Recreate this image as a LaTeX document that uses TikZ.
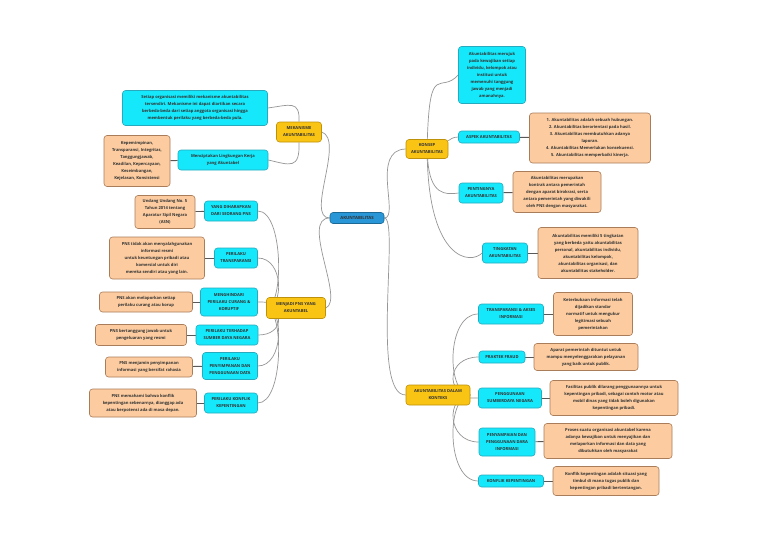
\documentclass[tikz,border=0pt]{standalone}
\usepackage{fontspec}
\setmainfont{Open Sans}
\usetikzlibrary{backgrounds}
\definecolor{cy}{RGB}{20,232,250}
\definecolor{cyb}{RGB}{40,170,190}
\definecolor{pe}{RGB}{252,204,160}
\definecolor{peb}{RGB}{170,125,90}
\definecolor{ye}{RGB}{250,196,20}
\definecolor{yeb}{RGB}{190,145,10}
\definecolor{bl}{RGB}{40,150,215}
\definecolor{tx}{RGB}{50,50,50}
\definecolor{ln}{RGB}{150,150,150}
\tikzset{
 base/.style={rounded corners=3pt,align=center,text=tx,font=\fontsize{4.1}{7}\selectfont\bfseries,inner sep=2pt,line width=0.6pt},
 cyn/.style={base,fill=cy,draw=cyb},
 pch/.style={base,fill=pe,draw=peb},
 yel/.style={base,fill=ye,draw=yeb},
 root/.style={base,fill=bl,draw=bl!70!black,font=\fontsize{4.3}{7}\selectfont\bfseries,minimum width=54pt,minimum height=11pt},
 br/.style={draw=ln,line width=0.7pt},
 lk/.style={draw=gray!70!black,line width=0.9pt}
}
\begin{document}
\begin{tikzpicture}[x=1pt,y=-1pt]
\useasboundingbox (0,0) rectangle (768,543);
\node[root] (r) at (357,218) {AKUNTABILITAS};
% left
\node[yel,minimum width=45pt,minimum height=20pt] (mek) at (299,132) {MEKANISME\\AKUNTABILITAS};
\node[cyn,minimum width=145pt,minimum height=35pt] (c1) at (195,108) {Setiap organisasi memiliki mekanisme akuntabilitas\\tersendiri. Mekanisme ini dapat diartikan secara\\berbeda-beda dari setiap anggota organisasi hingga\\membentuk perilaku yang berbeda-beda pula.};
\node[cyn,minimum width=90pt,minimum height=20pt] (c2) at (223,160) {Menciptakan Lingkungan Kerja\\yang Akuntabel};
\node[pch,minimum width=66pt,minimum height=51pt] (p2) at (137,161) {Kepemimpinan,\\Transparansi, Integritas,\\Tanggungjawab,\\Keadilan, Kepercayaan,\\Keseimbangan,\\Kejelasan, Konsistensi};
\node[yel,minimum width=59pt,minimum height=21pt] (pns) at (296,308) {MENJADI PNS YANG\\AKUNTABEL};
\node[cyn,minimum width=53pt,minimum height=20pt] (d1) at (231,211) {YANG DIHARAPKAN\\DARI SEORANG PNS};
\node[pch,minimum width=60pt,minimum height=33pt] (q1) at (165,212) {Undang Undang No. 5\\Tahun 2014 tentang\\Aparatur Sipil Negara\\(ASN)};
\node[cyn,minimum width=43pt,minimum height=20pt] (d2) at (236,258) {PERILAKU\\TRANSPARANSI};
\node[pch,minimum width=95pt,minimum height=42pt] (q2) at (157,258) {PNS tidak akan menyalahgunakan\\informasi resmi\\untuk keuntungan pribadi atau\\komersial untuk diri\\mereka sendiri atau yang lain.};
\node[cyn,minimum width=57pt,minimum height=28pt] (d3) at (229,302) {MENGHINDARI\\PERILAKU CURANG \&\\KORUPTIF};
\node[pch,minimum width=93pt,minimum height=20pt] (q3) at (146,302) {PNS akan melaporkan setiap\\perilaku curang atau korup};
\node[cyn,minimum width=62pt,minimum height=20pt] (d4) at (227,335) {PERILAKU TERHADAP\\SUMBER DAYA NEGARA};
\node[pch,minimum width=91pt,minimum height=21pt] (q4) at (141,335) {PNS bertanggung jawab untuk\\pengeluaran yang resmi};
\node[cyn,minimum width=55pt,minimum height=27pt] (d5) at (230,366) {PERILAKU\\PENYIMPANAN DAN\\PENGGUNAAN DATA};
\node[pch,minimum width=87pt,minimum height=20pt] (q5) at (149,367) {PNS menjamin penyimpanan\\informasi yang bersifat rahasia};
\node[cyn,minimum width=53pt,minimum height=20pt] (d6) at (231,403) {PERILAKU KONFLIK\\KEPENTINGAN};
\node[pch,minimum width=107pt,minimum height=28pt] (q6) at (143,403) {PNS memahami bahwa konflik\\kepentingan sebenarnya, dianggap ada\\atau berpotensi ada di masa depan.};
% right
\node[yel,minimum width=42pt,minimum height=19pt] (kon) at (427,149) {KONSEP\\AKUNTABILITAS};
\node[cyn,minimum width=67pt,minimum height=57pt] (e1) at (492,75) {Akuntabilitas merujuk\\pada kewajiban setiap\\individu, kelompok atau\\institusi untuk\\memenuhi tanggung\\jawab yang menjadi\\amanahnya.};
\node[cyn,minimum width=61pt,minimum height=12pt] (e2) at (489,137) {ASPEK AKUNTABILITAS};
\node[pch,minimum width=121pt,minimum height=50pt] (f2) at (590,138) {1. Akuntabilitas adalah sebuah hubungan.\\2. Akuntabilitas berorientasi pada hasil.\\3. Akuntabilitas membutuhkan adanya\\laporan.\\4. Akuntabilitas  Memerlukan konsekuensi.\\5. Akuntabilitas memperbaiki kinerja.};
\node[cyn,minimum width=44pt,minimum height=20pt] (e3) at (481,193) {PENTINGNYA\\AKUNTABILITAS};
\node[pch,minimum width=88pt,minimum height=41pt] (f3) at (557,192) {Akuntabilitas merupakan\\kontrak antara pemerintah\\dengan aparat birokrasi, serta\\antara pemerintah yang diwakili\\oleh PNS dengan masyarakat.};
\node[cyn,minimum width=45pt,minimum height=20pt] (e4) at (505,253) {TINGKATAN\\AKUNTABILITAS};
\node[pch,minimum width=100pt,minimum height=51pt] (f4) at (588,253) {Akuntabilitas memiliki 5 tingkatan\\yang berbeda yaitu akuntabilitas\\personal, akuntabilitas individu,\\akuntabilitas kelompok,\\akuntabilitas organisasi, dan\\akuntabilitas stakeholder.};
\node[yel,minimum width=64pt,minimum height=20pt] (ktx) at (438,395) {AKUNTABILITAS DALAM\\KONTEKS};
\node[cyn,minimum width=65pt,minimum height=20pt] (g1) at (511,314) {TRANSPARANSI \& AKSES\\INFORMASI};
\node[pch,minimum width=79pt,minimum height=43pt] (h1) at (593,314) {Keterbukaan informasi telah\\dijadikan standar\\normatif untuk mengukur\\legitimasi sebuah\\pemerintahan};
\node[cyn,minimum width=46pt,minimum height=12pt] (g2) at (502,357) {PRAKTEK FRAUD};
\node[pch,minimum width=104pt,minimum height=27pt] (h2) at (586,357) {Aparat pemerintah dituntut untuk\\mampu menyelenggarakan pelayanan\\yang baik untuk publik.};
\node[cyn,minimum width=63pt,minimum height=20pt] (g3) at (510,398) {PENGGUNAAN\\SUMBERDAYA NEGARA};
\node[pch,minimum width=128pt,minimum height=35pt] (h3) at (614,398) {Fasilitas publik dilarang penggunaannya untuk\\kepentingan pribadi, sebagai contoh motor atau\\mobil dinas yang tidak boleh digunakan\\kepentingan pribadi.};
\node[cyn,minimum width=56pt,minimum height=28pt] (g4) at (507,442) {PENYAMPAIAN DAN\\PENGGUNAAN DARA\\INFORMASI};
\node[pch,minimum width=128pt,minimum height=35pt] (h4) at (608,441) {Proses suatu organisasi akuntabel karena\\adanya kewajiban untuk menyajikan dan\\melaporkan informasi dan data yang\\dibutuhkan oleh masyarakat};
\node[cyn,minimum width=65pt,minimum height=12pt] (g5) at (511,481) {KONFLIK KEPENTINGAN};
\node[pch,minimum width=106pt,minimum height=29pt] (h5) at (606,481) {Konflik kepentingan adalah situasi yang\\timbul di mana tugas publik dan\\kepentingan pribadi bertentangan.};
\begin{scope}[on background layer]
\fill[white] (0,0) rectangle (768,543);
% branches from root
\draw[br] (r.west) .. controls (305,218) and (345,140) .. (mek.east);
\draw[br] (r.west) .. controls (300,218) and (345,300) .. (pns.east);
\draw[br] (r.east) .. controls (400,218) and (370,150) .. (kon.west);
\draw[br] (r.east) .. controls (400,218) and (370,395) .. (ktx.west);
% mekanisme children
\draw[br] (mek.north) .. controls (300,100) and (290,105) .. (c1.east);
\draw[br] (mek.south) .. controls (300,170) and (290,165) .. (c2.east);
% pns children
\foreach \n/\y in {d1/211,d2/258,d3/302,d4/335,d5/366,d6/403}
  \draw[br] (pns) .. controls (284,308) and (284,\y) .. (\n.east);
% konsep children
\draw[br] (kon) .. controls (430,60) and (440,95) .. (e1.west);
\draw[br] (kon) .. controls (450,140) and (452,137) .. (e2.west);
\draw[br] (kon) .. controls (430,195) and (445,195) .. (e3.west);
\draw[br] (kon) .. controls (430,260) and (470,265) .. (e4.west);
% konteks children
\foreach \n/\y in {g1/314,g2/357,g3/398,g4/442,g5/481}
  \draw[br] (ktx) .. controls (446,395) and (446,\y) .. (\n.west);
% links
\foreach \a/\b in {c2/p2,d1/q1,d2/q2,d3/q3,d4/q4,d5/q5,d6/q6,e2/f2,e3/f3,e4/f4,g1/h1,g2/h2,g3/h3,g4/h4,g5/h5}
  \draw[lk] (\a) -- (\b);
\end{scope}
\end{tikzpicture}
\end{document}
